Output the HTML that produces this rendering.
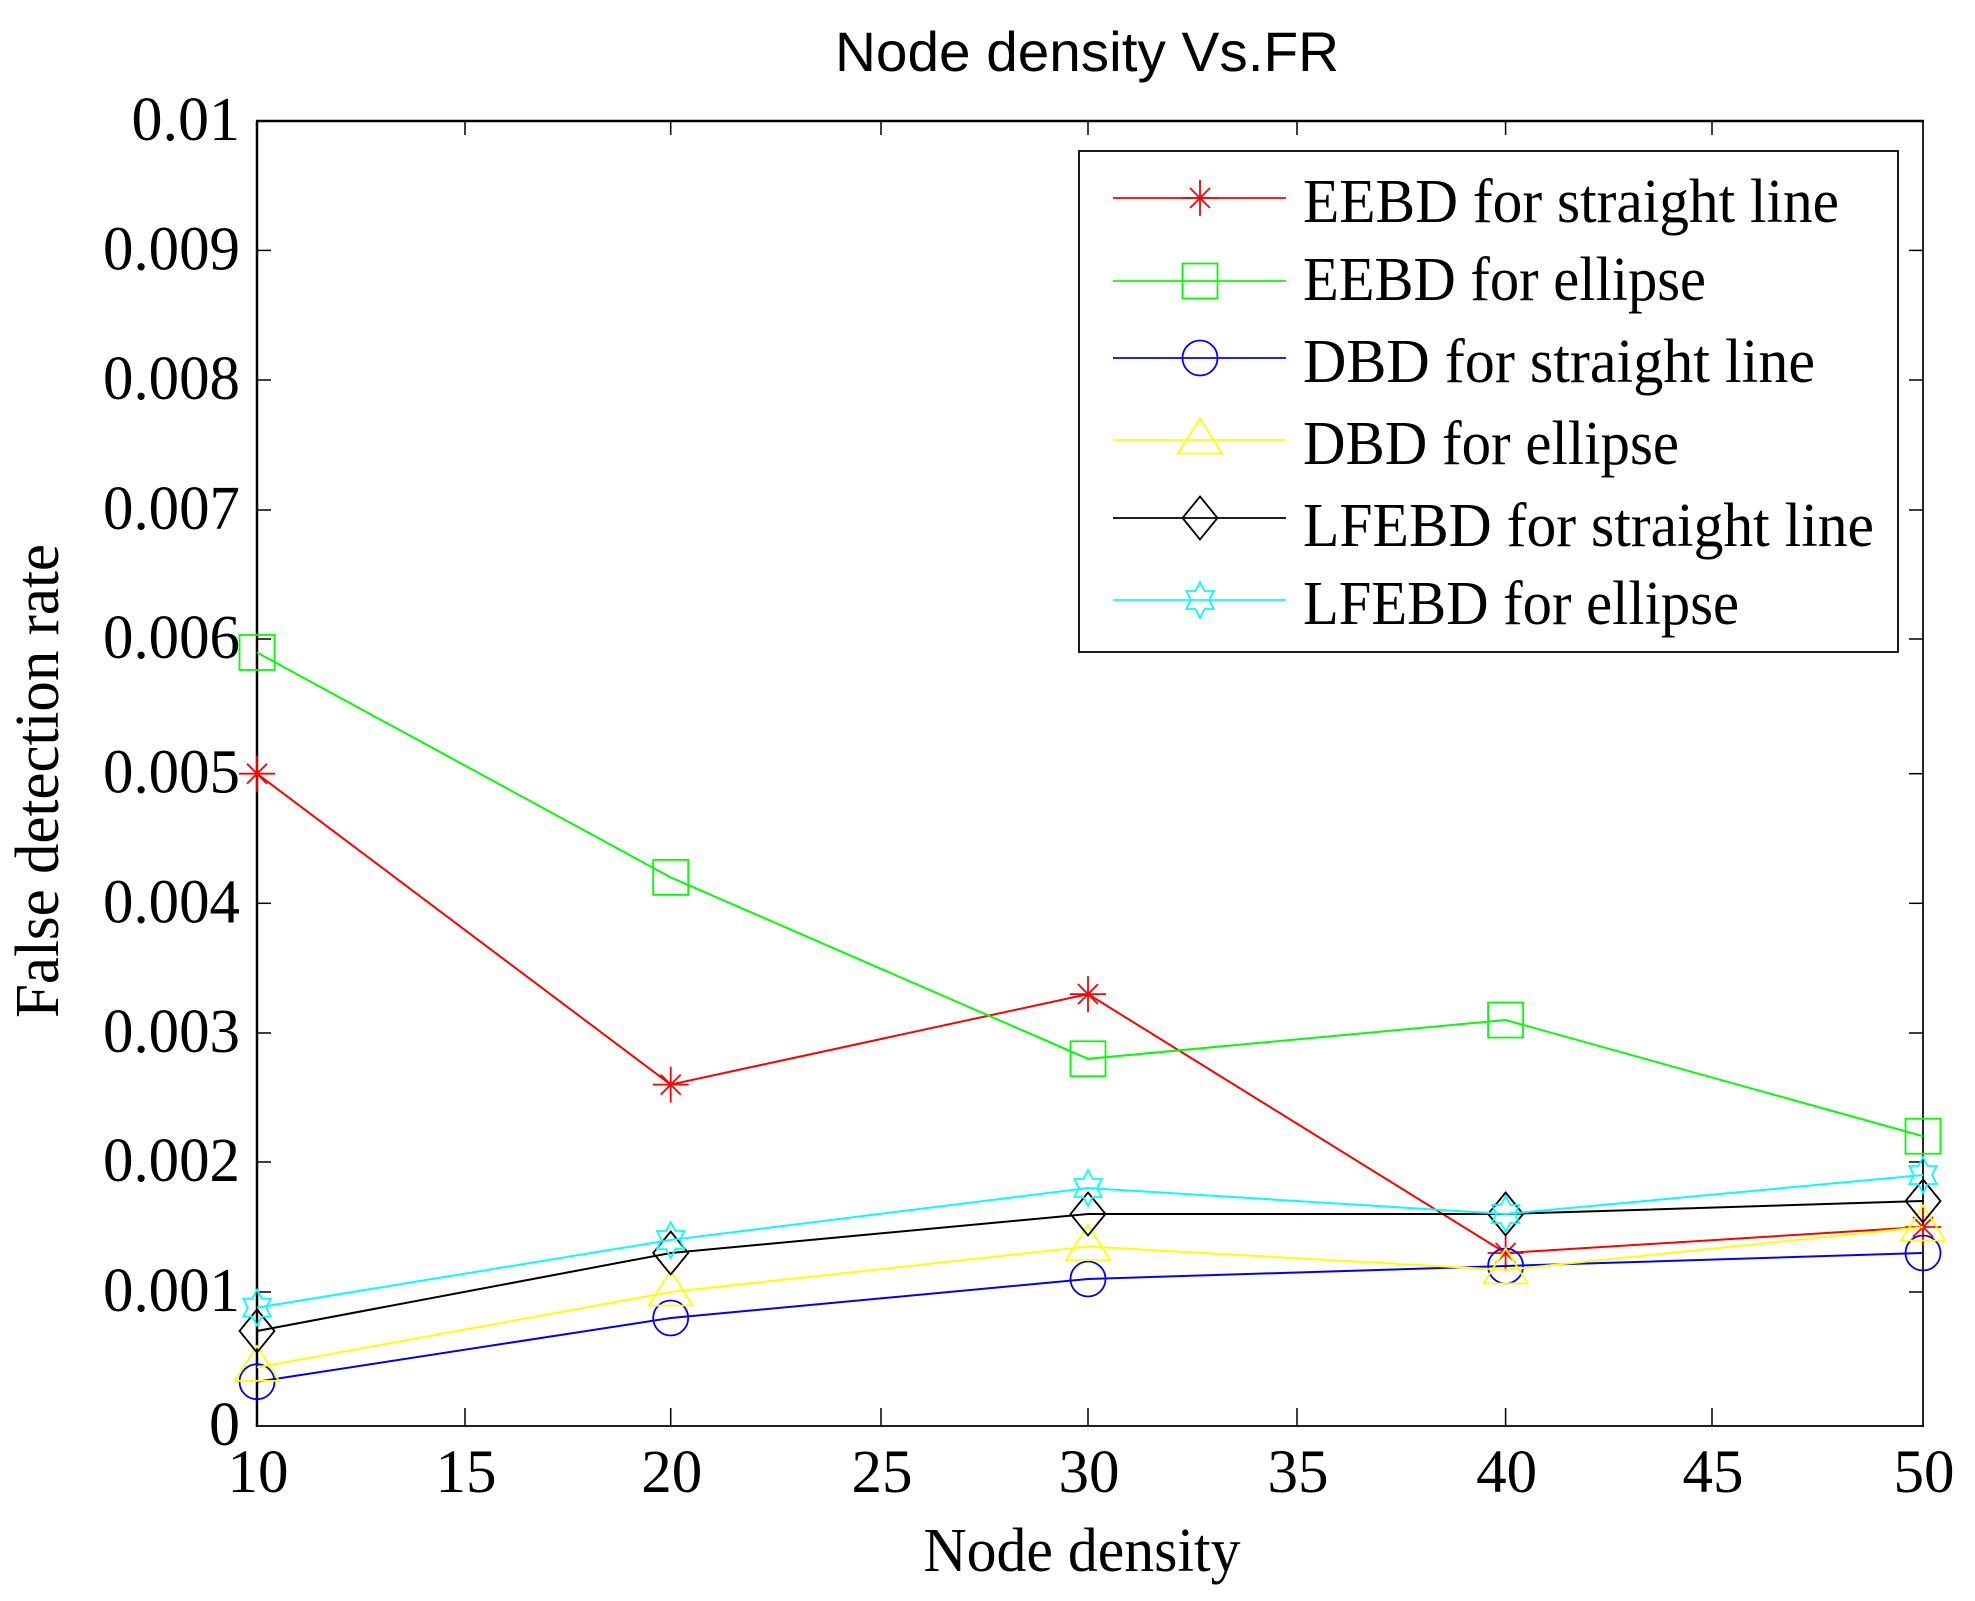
<!DOCTYPE html>
<html lang="en">
<head>
<meta charset="utf-8">
<title>Node density Vs.FR</title>
<style>
  html, body { margin: 0; padding: 0; background: #fff; }
  svg { display: block; }
  .serif { font-family: "Liberation Serif", serif; fill: #000; }
  .sans { font-family: "Liberation Sans", sans-serif; fill: #000; }
</style>
</head>
<body>
<svg id="chart" xmlns="http://www.w3.org/2000/svg" width="1975" height="1601" viewBox="0 0 1975 1601">
  <rect x="0" y="0" width="1975" height="1601" fill="#fff"/>
  <text class="sans" x="835" y="71" font-size="56" textLength="504" lengthAdjust="spacingAndGlyphs">Node density Vs.FR</text>
  <text class="serif" x="923.5" y="1571" font-size="62" textLength="317" lengthAdjust="spacingAndGlyphs">Node density</text>
  <text class="serif" transform="translate(58 1018) rotate(-90)" font-size="62" textLength="474" lengthAdjust="spacingAndGlyphs">False detection rate</text>
  <g id="axes"></g>
  <g id="series"></g>
  <g id="legend"></g>
</svg>
<script>
// ---- chart data ----
const categories = [10, 20, 30, 40, 50];
const eebdLine = [0.005, 0.0026, 0.0033, 0.0013, 0.0015];
const eebdEllipse = [0.0059, 0.0042, 0.0028, 0.0031, 0.0022];
const dbdLine = [0.00031, 0.0008, 0.0011, 0.0012, 0.0013];
const dbdEllipse = [0.00042, 0.001, 0.00135, 0.00117, 0.0015];
const lfebdLine = [0.0007, 0.0013, 0.0016, 0.0016, 0.0017];
const lfebdEllipse = [0.00088, 0.0014, 0.0018, 0.0016, 0.0019];
const xTickLabels = ['10', '15', '20', '25', '30', '35', '40', '45', '50'];
const yTickLabels = ['0', '0.001', '0.002', '0.003', '0.004', '0.005', '0.006', '0.007', '0.008', '0.009', '0.01'];
const legendLabels = ['EEBD for straight line', 'EEBD for ellipse', 'DBD for straight line', 'DBD for ellipse', 'LFEBD for straight line', 'LFEBD for ellipse'];

// ---- layout ----
const NS = 'http://www.w3.org/2000/svg';
const plotLeft = 257, plotRight = 1923, plotTop = 121, plotBottom = 1426;

// The axes are slightly uneven, so each scale interpolates between its measured tick positions.
const xCalibration = { domain: [10, 15, 20, 25, 30, 35, 40, 45, 50], range: [257, 465, 670.7, 881, 1088, 1297, 1505.6, 1712, 1923] };
const yCalibration = { domain: [0, 0.001, 0.002, 0.003, 0.004, 0.005, 0.006, 0.007, 0.008, 0.009, 0.01], range: [1422, 1292, 1162, 1033, 903.3, 773.7, 639, 510, 380, 250.4, 121] };

function interpolate(cal, v) {
  const d = cal.domain, r = cal.range;
  let i = 0;
  while (i < d.length - 2 && v > d[i + 1]) i++;
  return r[i] + (v - d[i]) / (d[i + 1] - d[i]) * (r[i + 1] - r[i]);
}
const xScale = v => interpolate(xCalibration, v);
const yScale = v => interpolate(yCalibration, v);

const legendRowY = [198, 281, 358, 440, 518, 600];
const legendTextY = [222, 300, 382, 464, 546, 624];
const legendTextW = [536, 403, 512, 376, 571, 436];

function make(parent, tag, attrs) {
  const el = document.createElementNS(NS, tag);
  for (const k in attrs) el.setAttribute(k, attrs[k]);
  parent.appendChild(el);
  return el;
}

function hexagramPoints(cx, cy) {
  const pts = [];
  for (let i = 0; i < 12; i++) {
    const r = i % 2 === 0 ? 18 : 10.4;
    const a = Math.PI * i / 6;
    pts.push((cx + r * 0.88 * Math.sin(a)).toFixed(1) + ',' + (cy - r * Math.cos(a)).toFixed(1));
  }
  return pts.join(' ');
}

function drawMarker(parent, kind, cx, cy, color) {
  const base = { fill: 'none', stroke: color, 'stroke-width': 1.8 };
  if (kind === 'star') {
    const d = 'M' + cx + ' ' + (cy - 18) + 'V' + (cy + 18) +
      'M' + (cx - 18) + ' ' + cy + 'H' + (cx + 18) +
      'M' + (cx - 10) + ' ' + (cy - 10) + 'L' + (cx + 10) + ' ' + (cy + 10) +
      'M' + (cx - 10) + ' ' + (cy + 10) + 'L' + (cx + 10) + ' ' + (cy - 10);
    return make(parent, 'path', Object.assign({ d: d }, base));
  }
  if (kind === 'square') {
    return make(parent, 'rect', Object.assign({ x: cx - 17.5, y: cy - 17.5, width: 35, height: 35 }, base));
  }
  if (kind === 'circle') {
    return make(parent, 'circle', Object.assign({ cx: cx, cy: cy, r: 17.5 }, base));
  }
  if (kind === 'triangle') {
    const p = cx + ',' + (cy - 21.5) + ' ' + (cx + 22) + ',' + (cy + 13.5) + ' ' + (cx - 22) + ',' + (cy + 13.5);
    return make(parent, 'polygon', Object.assign({ points: p }, base));
  }
  if (kind === 'diamond') {
    const p = cx + ',' + (cy - 21.5) + ' ' + (cx + 17.5) + ',' + cy + ' ' + cx + ',' + (cy + 21.5) + ' ' + (cx - 17.5) + ',' + cy;
    return make(parent, 'polygon', Object.assign({ points: p }, base));
  }
  return make(parent, 'polygon', Object.assign({ points: hexagramPoints(cx, cy) }, base));
}

// ---- axes ----
const axes = document.getElementById('axes');
const spineTop = make(axes, 'line', { x1: plotLeft - 1, x2: plotRight + 1, y1: plotTop, y2: plotTop, stroke: '#000', 'stroke-width': 2.5 });


const spineLeft = make(axes, 'line', { x1: plotLeft, x2: plotLeft, y1: plotTop, y2: plotBottom + 1, stroke: '#000', 'stroke-width': 2.5 });


const spineRight = make(axes, 'line', { x1: plotRight, x2: plotRight, y1: plotTop, y2: plotBottom + 1, stroke: '#000', 'stroke-width': 1.7 });


const spineBottom = make(axes, 'line', { x1: plotLeft, x2: plotRight + 1, y1: plotBottom, y2: plotBottom, stroke: '#000', 'stroke-width': 1.7 });



xTickLabels.forEach(label => {
  const v = Number(label);
  const x = xScale(v);
  if (v !== 10 && v !== 50) {
    const tickB = make(axes, 'line', { x1: x, x2: x, y1: plotBottom, y2: plotBottom - 18, stroke: '#000', 'stroke-width': 1.5 });
    
    
    const tickT = make(axes, 'line', { x1: x, x2: x, y1: plotTop, y2: plotTop + 14, stroke: '#000', 'stroke-width': 1.5 });
    
    
  }
  const txt = make(axes, 'text', { x: x + 1, y: 1492, 'text-anchor': 'middle', 'font-size': 61, class: 'serif' });
  txt.textContent = label;
  
  
});

yTickLabels.forEach(label => {
  const v = Number(label);
  const y = yScale(v);
  if (v !== 0 && v !== 0.01) {
    const tickL = make(axes, 'line', { x1: plotLeft, x2: plotLeft + 14, y1: y, y2: y, stroke: '#000', 'stroke-width': 1.5 });
    
    
    const tickR = make(axes, 'line', { x1: plotRight, x2: plotRight - 14, y1: y, y2: y, stroke: '#000', 'stroke-width': 1.5 });
    
    
  }
  const txt = make(axes, 'text', { x: 240, y: y + (v === 0 ? 23 : 19), 'text-anchor': 'end', 'font-size': 62, class: 'serif' });
  if (label.length === 5) {
    txt.setAttribute('textLength', '137');
    txt.setAttribute('lengthAdjust', 'spacingAndGlyphs');
  }
  txt.textContent = label;
  
  
});

// ---- series ----
const seriesList = [
  { key: 'eebd-straight-line', values: eebdLine, color: '#ff0000', marker: 'star' },
  { key: 'eebd-ellipse', values: eebdEllipse, color: '#00ff00', marker: 'square' },
  { key: 'dbd-straight-line', values: dbdLine, color: '#0000ff', marker: 'circle' },
  { key: 'dbd-ellipse', values: dbdEllipse, color: '#ffff00', marker: 'triangle' },
  { key: 'lfebd-straight-line', values: lfebdLine, color: '#000000', marker: 'diamond' },
  { key: 'lfebd-ellipse', values: lfebdEllipse, color: '#00ffff', marker: 'hexagram' }
];

const seriesRoot = document.getElementById('series');
seriesList.forEach(s => {
  const pts = s.values.map((v, i) => xScale(categories[i]).toFixed(1) + ',' + yScale(v).toFixed(1)).join(' ');
  const line = make(seriesRoot, 'polyline', { points: pts, fill: 'none', stroke: s.color, 'stroke-width': 2 });
  
  
  s.values.forEach((v, i) => {
    const m = drawMarker(seriesRoot, s.marker, xScale(categories[i]), yScale(v), s.color);
    
    
  });
});

// ---- legend ----
const legend = document.getElementById('legend');
const box = make(legend, 'rect', { x: 1079, y: 151, width: 819, height: 501, fill: '#fff', stroke: '#000', 'stroke-width': 1.8 });


seriesList.forEach((s, i) => {
  const y = legendRowY[i];
  const sample = make(legend, 'line', { x1: 1113, x2: 1286, y1: y, y2: y, stroke: s.color, 'stroke-width': 1.8 });
  
  
  const mk = drawMarker(legend, s.marker, 1200, y, s.color);
  
  
  const txt = make(legend, 'text', { x: 1303, y: legendTextY[i], 'font-size': 62, class: 'serif', textLength: legendTextW[i], lengthAdjust: 'spacingAndGlyphs' });
  txt.textContent = legendLabels[i];
  
  
});
</script>
</body>
</html>
